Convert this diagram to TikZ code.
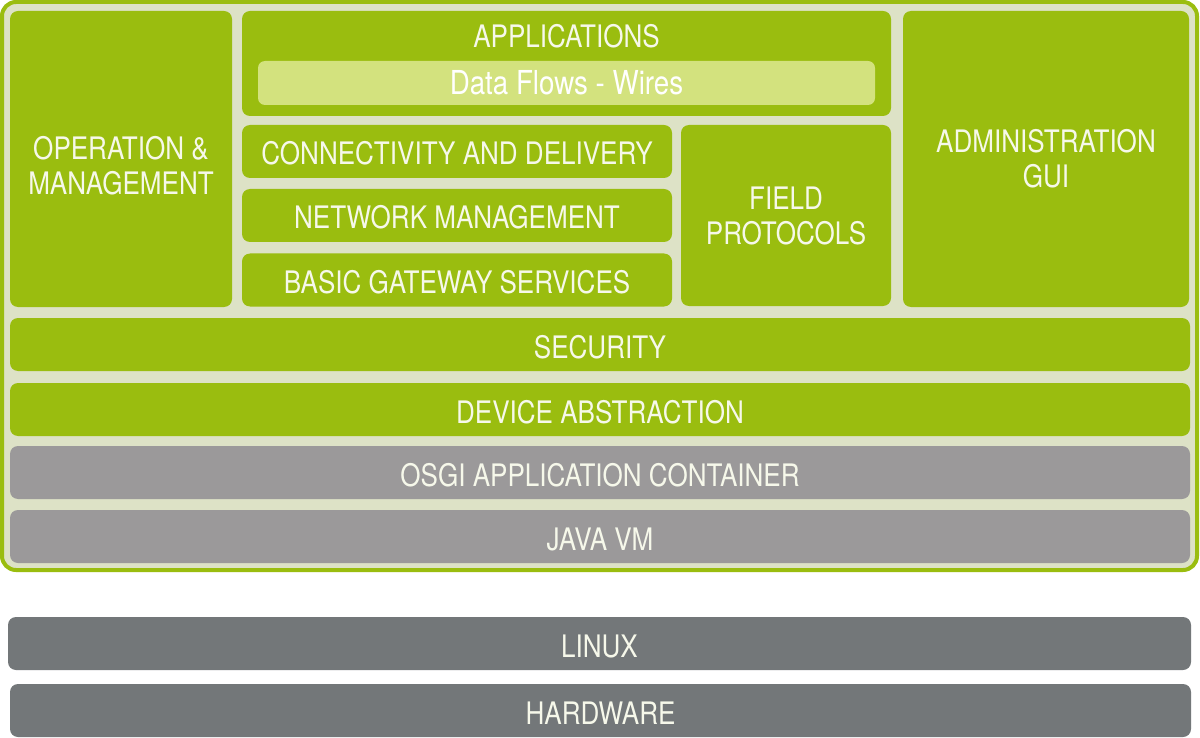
\documentclass[tikz,border=0pt]{standalone}
\usepackage{fontspec}
\setmainfont{TeX Gyre Heros}[FakeStretch=0.84]
\definecolor{kgreen}{HTML}{9ABD0F}
\definecolor{kbeige}{HTML}{DDE2C6}
\definecolor{klight}{HTML}{D3E27E}
\definecolor{kgray}{HTML}{9B999A}
\definecolor{kdark}{HTML}{737779}
\definecolor{ktext}{HTML}{F6F8EA}
\begin{document}
\begin{tikzpicture}[x=1pt,y=-1pt,
  blk/.style={rounded corners=8pt, inner sep=0pt, text=ktext, align=center,
    font=\fontsize{31}{35}\selectfont},
  one/.style={text height=27pt, text depth=0pt},
  gbox/.style={blk, fill=kgreen},
  lbox/.style={blk, fill=klight},
  gybox/.style={blk, fill=kgray},
  dkbox/.style={blk, fill=kdark},
  lbl/.style={text=ktext, inner sep=0pt, align=center, font=\fontsize{31}{35}\selectfont}]
\useasboundingbox (0,0) rectangle (1200,738);
\fill[white] (0,0) rectangle (1200,738);
% outer frame
\draw[kgreen, line width=4pt, fill=kbeige, rounded corners=14pt] (2,2) rectangle (1197,570);
% top region
\node[gbox, minimum width=222pt, minimum height=296pt] (om) at (121,159) {};
\node[lbl] (omt) at (121,165.5) {OPERATION \&\\MANAGEMENT};
\node[gbox, minimum width=649pt, minimum height=105pt] (app) at (566.5,63.5) {};
\node[lbl, anchor=center] (appt) at (566.5,36.5) {APPLICATIONS};
\node[lbox, minimum width=617pt, minimum height=44pt, rounded corners=7pt, text=white,
  font=\fontsize{33}{35}\selectfont] (df) at (566.5,83) {Data Flows - Wires};
\node[gbox, one, minimum width=430pt, minimum height=53pt] (cd) at (457,151.5) {CONNECTIVITY AND DELIVERY};
\node[gbox, one, minimum width=430pt, minimum height=53pt] (nm) at (457,215.5) {NETWORK MANAGEMENT};
\node[gbox, one, minimum width=430pt, minimum height=53pt] (bg) at (457,280) {BASIC GATEWAY SERVICES};
\node[gbox, minimum width=210pt, minimum height=181pt] (fp) at (786,215.5) {};
\node[lbl] (fpt) at (786,216) {FIELD\\PROTOCOLS};
\node[gbox, minimum width=286pt, minimum height=296pt] (ag) at (1046,159) {};
\node[lbl] (agt) at (1046,159) {ADMINISTRATION\\GUI};
% full-width layers
\node[gbox, one, minimum width=1180pt, minimum height=53pt] (sec) at (600,344.5) {SECURITY};
\node[gbox, one, minimum width=1180pt, minimum height=53pt] (dev) at (600,409.5) {DEVICE ABSTRACTION};
\node[gybox, one, minimum width=1180pt, minimum height=53pt] (osgi) at (600,472.5) {OSGI APPLICATION CONTAINER};
\node[gybox, one, minimum width=1180pt, minimum height=53pt] (jvm) at (600,536.5) {JAVA VM};
\node[dkbox, one, minimum width=1183pt, minimum height=53pt] (lin) at (599.5,643.5) {LINUX};
\node[dkbox, one, minimum width=1181pt, minimum height=53pt] (hw) at (600.5,710.5) {HARDWARE};
\end{tikzpicture}
\end{document}
